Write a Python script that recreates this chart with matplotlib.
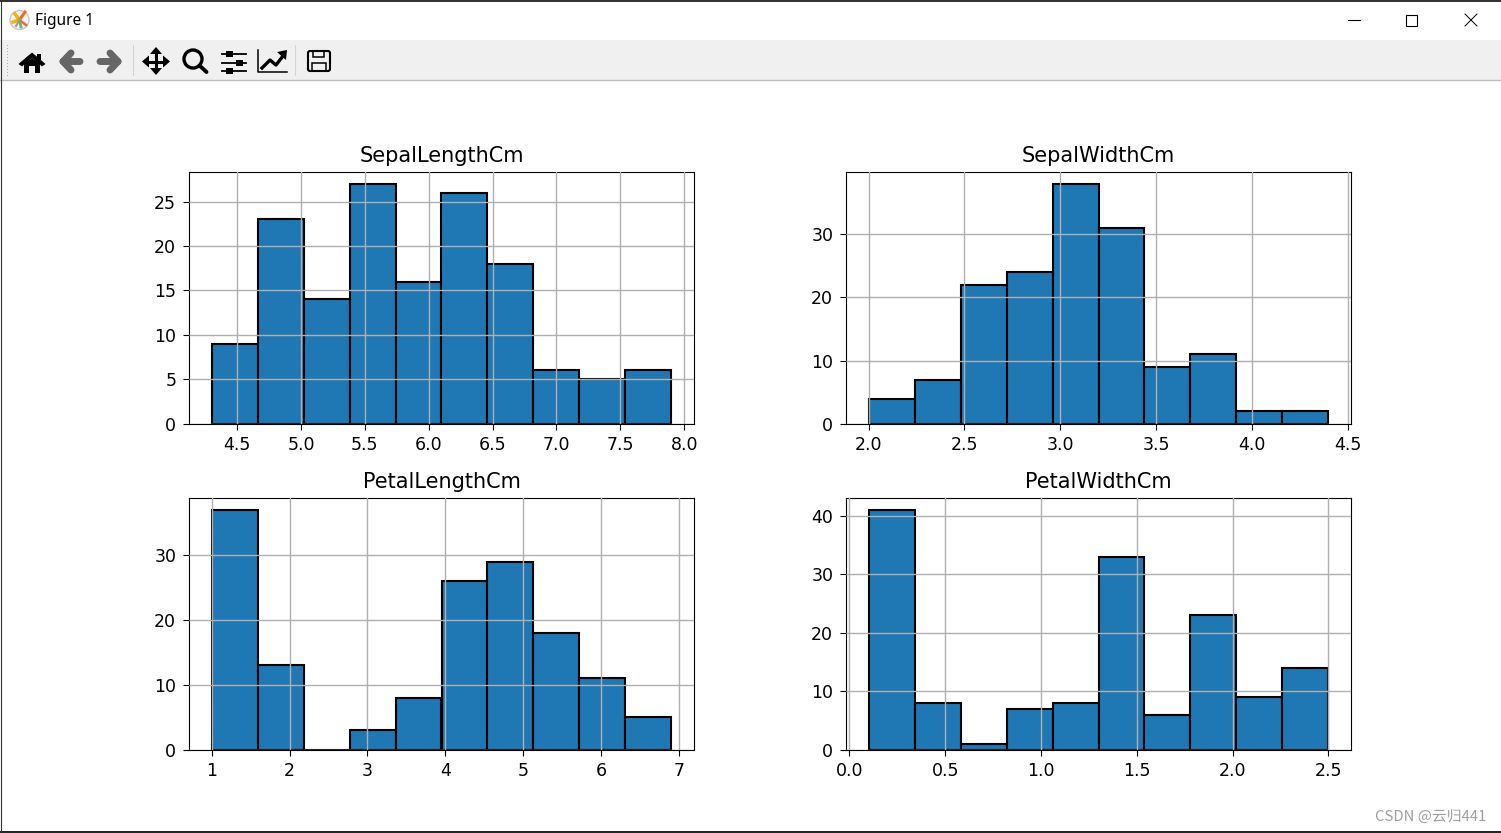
import numpy as np
import matplotlib
matplotlib.use('Agg')
import matplotlib.pyplot as plt
from matplotlib.patches import Rectangle, Circle, Polygon, FancyBboxPatch
from matplotlib.ticker import MultipleLocator

titles = ['SepalLengthCm', 'SepalWidthCm', 'PetalLengthCm', 'PetalWidthCm']
ranges = [(4.3, 7.9), (2.0, 4.4), (1.0, 6.9), (0.1, 2.5)]
sepal_length = [9, 23, 14, 27, 16, 26, 18, 6, 5, 6]
sepal_width = [4, 7, 22, 24, 38, 31, 9, 11, 2, 2]
petal_length = [37, 13, 0, 3, 8, 26, 29, 18, 11, 5]
petal_width = [41, 8, 1, 7, 8, 33, 6, 23, 9, 14]
counts = [sepal_length, sepal_width, petal_length, petal_width]
y_steps = [5, 10, 10, 10]
# axes boxes in screenshot pixels: left, top, right, bottom
boxes = [(188.6, 171.8, 694.4, 423.8), (845.6, 171.8, 1351.4, 423.8),
         (188.6, 497.8, 694.4, 749.8), (845.6, 497.8, 1351.4, 749.8)]

W, H = 1501, 833
fig = plt.figure(figsize=(W / 100, H / 100), dpi=100, facecolor='white')

# window chrome, in pixel coordinates
ui = fig.add_axes([0, 0, 1, 1])
ui.set_xlim(0, W)
ui.set_ylim(H, 0)
ui.axis('off')

ui.add_patch(Rectangle((0, 40), W, 40, fc='#f0f0f0', ec='none'))
ui.plot([0, W], [80, 80], color='#bdbdbd', lw=1)
ui.plot([0, W], [0.5, 0.5], color='#303030', lw=1.4)
ui.plot([0, W], [832, 832], color='#202020', lw=1.4)
ui.plot([0.5, 0.5], [0, H], color='#303030', lw=0.8)

# app icon
ui.add_patch(Circle((19.5, 20), 9.5, fc='#f4f4f4', ec='#c8c8c8', lw=1))
ui.plot([15, 19.5], [14, 20], color='#f5b400', lw=2.5)
ui.plot([13, 19.5], [22, 20], color='#f5b400', lw=2.5)
ui.plot([19.5, 25], [20, 12], color='#e8702a', lw=2.2)
ui.plot([19.5, 26], [20, 25], color='#e8702a', lw=1.8)
ui.plot([19.5, 21], [20, 27], color='#7fb069', lw=2)
ui.plot([19.5, 16], [20, 26], color='#9a9a9a', lw=1.5)
ui.text(35, 21, 'Figure 1', fontsize=11.1, family='Noto Sans', color='black', va='center')

# window buttons
ui.plot([1348, 1360], [19.5, 19.5], color='black', lw=0.8)
ui.add_patch(Rectangle((1406, 14.5), 11, 11, fc='none', ec='black', lw=0.8))
ui.plot([1465, 1477], [14, 26], color='black', lw=0.7)
ui.plot([1465, 1477], [26, 14], color='black', lw=0.7)

# toolbar gripper and separators
ui.plot([7] * 11, np.arange(45, 78, 3), ls='none', marker='s', ms=0.7, color='#b0b0b0', mew=0)
for sx in (132.5, 294.5):
    ui.plot([sx, sx], [45, 75], color='#d4d4d4', lw=0.8)

# home
ui.add_patch(Polygon([(19, 64), (32, 53), (45, 64), (42, 66), (32, 57.5), (22, 66)], fc='black', ec='black', lw=0.5))
ui.add_patch(Polygon([(24, 64), (32, 58), (40, 64), (40, 73), (35, 73), (35, 66), (29, 66), (29, 73), (24, 73)], fc='black', ec='none'))
ui.add_patch(Rectangle((37, 54), 3.5, 6, fc='black', ec='none'))

# back / forward
ui.plot([80, 63, 71], [61.5, 61.5, 53], color='#666666', lw=5, solid_capstyle='round', solid_joinstyle='round')
ui.plot([63, 71], [61.5, 70], color='#666666', lw=5, solid_capstyle='round')
ui.plot([100, 118, 110], [61.5, 61.5, 53], color='#666666', lw=5, solid_capstyle='round', solid_joinstyle='round')
ui.plot([118, 110], [61.5, 70], color='#666666', lw=5, solid_capstyle='round')

# move
ui.plot([147, 165], [61.5, 61.5], color='black', lw=2.2)
ui.plot([156, 156], [52, 70], color='black', lw=2.2)
ui.add_patch(Polygon([(142, 61.5), (149, 55.5), (149, 67.5)], fc='black', ec='none'))
ui.add_patch(Polygon([(170, 61.5), (163, 55.5), (163, 67.5)], fc='black', ec='none'))
ui.add_patch(Polygon([(156, 47), (150, 54), (162, 54)], fc='black', ec='none'))
ui.add_patch(Polygon([(156, 75), (150, 68), (162, 68)], fc='black', ec='none'))

# zoom
ui.add_patch(Circle((193, 59), 9, fc='none', ec='black', lw=2.4))
ui.plot([199.5, 206.5], [65.5, 72], color='black', lw=2.8, solid_capstyle='round')

# configure subplots
for ly, kx in ((53.5, 229), (62.5, 239), (70.5, 229)):
    ui.plot([222, 246], [ly, ly], color='black', lw=1.3)
    ui.add_patch(Rectangle((kx - 3.5, ly - 3), 7, 6, fc='black', ec='none'))

# edit axis
ui.plot([258, 258, 287], [50, 71.5, 71.5], color='black', lw=1.1)
ui.plot([262, 270, 276, 283], [68, 60, 65, 56], color='black', lw=2.4)
ui.add_patch(Polygon([(287, 50), (286, 60), (277, 52)], fc='black', ec='none'))

# save
ui.add_patch(FancyBboxPatch((308, 51), 22, 20, boxstyle='round,pad=0,rounding_size=2', fc='none', ec='black', lw=1.5))
ui.add_patch(Rectangle((313, 50.5), 11, 6, fc='none', ec='black', lw=1.1))
ui.add_patch(Rectangle((312, 63), 14, 8, fc='none', ec='black', lw=1.1))

# histograms
for box, title, (lo, hi), vals, step in zip(boxes, titles, ranges, counts, y_steps):
    left, top, right, bottom = box
    ax = fig.add_axes([left / W, 1 - bottom / H, (right - left) / W, (bottom - top) / H])
    edges = np.linspace(lo, hi, len(vals) + 1)
    ax.bar(edges[:-1], vals, width=np.diff(edges), align='edge',
           color='#1f77b4', edgecolor='black', linewidth=1.5)
    ax.yaxis.set_major_locator(MultipleLocator(step))
    ax.grid(True, color='#b0b0b0', linewidth=1)
    ax.set_axisbelow(False)
    ax.set_title(title, fontsize=15, pad=7)
    ax.tick_params(labelsize=12.5, length=4.4, pad=4.5)

ui.set_zorder(5)
ui.patch.set_alpha(0)
ui.text(1486, 817, 'CSDN @云归441', fontsize=10.7, color='#a0a0a0', ha='right', va='center',
        family=['Noto Sans CJK SC', 'DejaVu Sans'])

fig.savefig('out.png', dpi=100)
